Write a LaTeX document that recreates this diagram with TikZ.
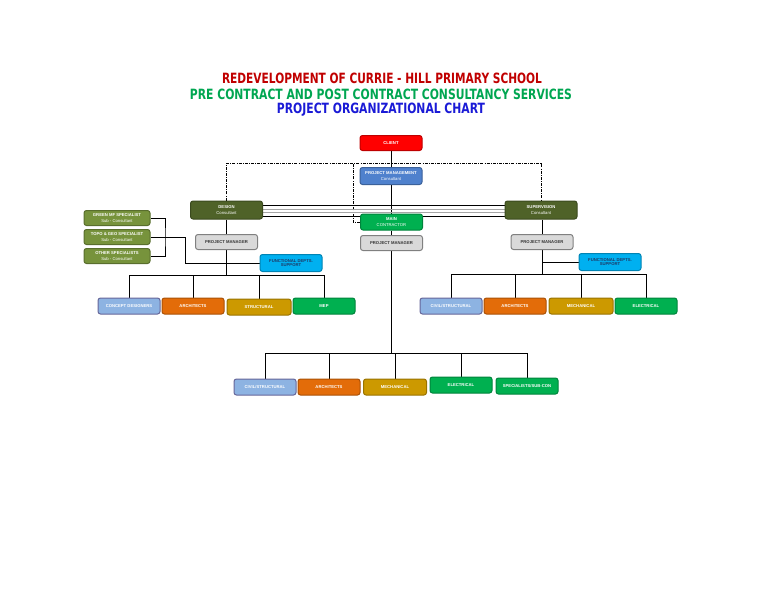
\documentclass[tikz,border=0pt]{standalone}
\usepackage{fontspec}
\setmainfont{Liberation Sans}
\newfontfamily\titlefont{DejaVu Sans}
\usetikzlibrary{backgrounds,calc}
\definecolor{tred}{HTML}{C00000}
\definecolor{tgreen}{HTML}{00A651}
\definecolor{tblue}{HTML}{1A1AD6}
\definecolor{cred}{HTML}{FF0000}
\definecolor{cblue}{HTML}{4F81CD}
\definecolor{colive}{HTML}{4F6228}
\definecolor{cgreen}{HTML}{00B050}
\definecolor{cgrey}{HTML}{D9D9D9}
\definecolor{ccyan}{HTML}{00B0F0}
\definecolor{clblue}{HTML}{8DB3E2}
\definecolor{corange}{HTML}{E36C09}
\definecolor{cgold}{HTML}{CC9900}
\definecolor{cspec}{HTML}{77933C}
\definecolor{cnavy}{HTML}{1F3864}
\tikzset{
  box/.style={rounded corners=2.5pt, minimum width=62pt, minimum height=16pt, inner sep=0.5pt,
    align=center, font=\fontsize{4.2}{4.8}\selectfont\bfseries, text=white, line width=1pt},
  fillbox/.style={box, fill=#1, draw=#1!75!black},
  greybox/.style={box, fill=cgrey, draw=gray, text=black!80, minimum height=15pt},
  cyanbox/.style={box, fill=ccyan, draw=ccyan!75!black, text=cnavy, minimum height=17pt},
  specbox/.style={box, fill=cspec, draw=cspec!75!black, minimum width=66pt, minimum height=15pt},
  conn/.style={line width=1pt, black},
  ddline/.style={line width=0.8pt, black, dash pattern=on 3pt off 1.2pt on 0.8pt off 1.2pt},
  ttl/.style={inner sep=0pt, font=\titlefont\bfseries}
}
\begin{document}
\begin{tikzpicture}[x=1pt,y=-1pt]
\useasboundingbox (0,0) rectangle (768,594);
% titles
\node[ttl, text=tred] (t1) at (382,78) {\resizebox{320pt}{10.5pt}{REDEVELOPMENT OF CURRIE - HILL PRIMARY SCHOOL}};
\node[ttl, text=tgreen] (t2) at (381,94) {\resizebox{382pt}{10.5pt}{PRE CONTRACT AND POST CONTRACT CONSULTANCY SERVICES}};
\node[ttl, text=tblue] (t3) at (381,110) {\resizebox{208pt}{10.5pt}{PROJECT ORGANIZATIONAL CHART}};
% top
\node[fillbox=cred, minimum height=15pt] (client) at (391,143) {CLIENT};
\node[fillbox=cblue, minimum height=17pt] (pmc) at (391,176) {PROJECT MANAGEMENT\\[0.5pt]\mdseries Consultant};
\node[fillbox=colive, minimum width=72pt, minimum height=18pt] (design) at (226.5,210) {DESIGN\\[0.5pt]\mdseries Consultant};
\node[fillbox=colive, minimum width=72pt, minimum height=18pt] (sup) at (541,210) {SUPERVISION\\[0.5pt]\mdseries Consultant};
\node[fillbox=cgreen, minimum height=16pt] (mc) at (391.5,222) {MAIN\\[0.5pt]\mdseries CONTRACTOR};
\node[greybox] (pmD) at (226.5,242) {PROJECT MANAGER};
\node[greybox] (pmM) at (391.5,243) {PROJECT MANAGER};
\node[greybox] (pmS) at (542,242) {PROJECT MANAGER};
\node[cyanbox] (fdL) at (291,263) {FUNCTIONAL DEPTS.\\SUPPORT};
\node[cyanbox] (fdR) at (610,262) {FUNCTIONAL DEPTS.\\SUPPORT};
% specialists
\node[specbox] (sp1) at (117,218) {GREEN MF SPECIALIST\\[0.5pt]\mdseries Sub - Consultant};
\node[specbox] (sp2) at (117,237) {TOPO \& GEO SPECIALIST\\[0.5pt]\mdseries Sub - Consultant};
\node[specbox] (sp3) at (117,256) {OTHER SPECIALISTS\\[0.5pt]\mdseries Sub - Consultant};
% design row
\node[fillbox=clblue, draw=gray!80!blue] (cd) at (129,306) {CONCEPT DESIGNERS};
\node[fillbox=corange] (arD) at (193,306) {ARCHITECTS};
\node[fillbox=cgold, minimum width=64pt] (stD) at (259,307) {STRUCTURAL};
\node[fillbox=cgreen] (mep) at (324,306) {MEP};
% supervision row
\node[fillbox=clblue, draw=gray!80!blue] (csS) at (451,306) {CIVIL/STRUCTURAL};
\node[fillbox=corange] (arS) at (515,306) {ARCHITECTS};
\node[fillbox=cgold, minimum width=64pt] (meS) at (581,306) {MECHANICAL};
\node[fillbox=cgreen] (elS) at (646,306) {ELECTRICAL};
% main contractor row
\node[fillbox=clblue, draw=gray!80!blue] (csM) at (265,387) {CIVIL/STRUCTURAL};
\node[fillbox=corange] (arM) at (329,387) {ARCHITECTS};
\node[fillbox=cgold, minimum width=63pt] (meM) at (395,387) {MECHANICAL};
\node[fillbox=cgreen] (elM) at (461,385) {ELECTRICAL};
\node[fillbox=cgreen] (scM) at (527,386) {SPECIALISTS/SUB-CON};
% coordinates
\coordinate (hub) at (391,163);
\coordinate (ddv) at (353,163);
\coordinate (jL) at (226.5,275);
\coordinate (jR) at (542,274);
\coordinate (jM) at (391.5,353);
\coordinate (spv) at (165,237);
\coordinate (jog) at (185,0);
\begin{pgfonlayer}{background}
  % dash-dot
  \draw[ddline] (design.north) |- (hub) -| (sup.north);
  \draw[ddline] (mc.west) -| (ddv);
  % vertical spine
  \draw[conn] (client) -- (pmc);
  \draw[conn] (pmc.south) -- (mc.north -| pmc.south);
  \draw[conn] (mc) -- (pmM);
  % design - supervision link lines
  \draw[conn] ($(design.east)+(0,-5)$) -- ($(sup.west)+(0,-5)$);
  \draw[line width=0.9pt, black!35] ($(design.east)+(0,-1)$) -- ($(sup.west)+(0,-1)$);
  \draw[line width=0.9pt, black!35] ($(design.east)+(0,2)$) -- ($(sup.west)+(0,2)$);
  \draw[conn] ($(design.east)+(0,6)$) -- ($(sup.west)+(0,6)$);
  % design branch
  \draw[conn] (design) -- (pmD);
  \draw[conn] (pmD) -- (jL);
  \draw[conn] (pmD.south |- fdL.west) -- (fdL.west);
  \foreach \c in {cd,arD,stD,mep} \draw[conn] (jL) -| (\c.north);
  % specialists
  \draw[conn] (sp1.east) -| (spv) |- (sp3.east);
  \draw[conn] (sp2.east) -| (jog |- fdL.west) -- (fdL.west);
  % supervision branch
  \draw[conn] (sup.south -| pmS.north) -- (pmS.north);
  \draw[conn] (pmS) -- (jR);
  \draw[conn] (pmS.south |- fdR.west) -- (fdR.west);
  \foreach \c in {csS,arS,meS,elS} \draw[conn] (jR) -| (\c.north);
  % main contractor branch
  \draw[conn] (pmM) -- (jM);
  \foreach \c in {csM,arM,meM,elM,scM} \draw[conn] (jM) -| (\c.north);
\end{pgfonlayer}
\end{tikzpicture}
\end{document}
